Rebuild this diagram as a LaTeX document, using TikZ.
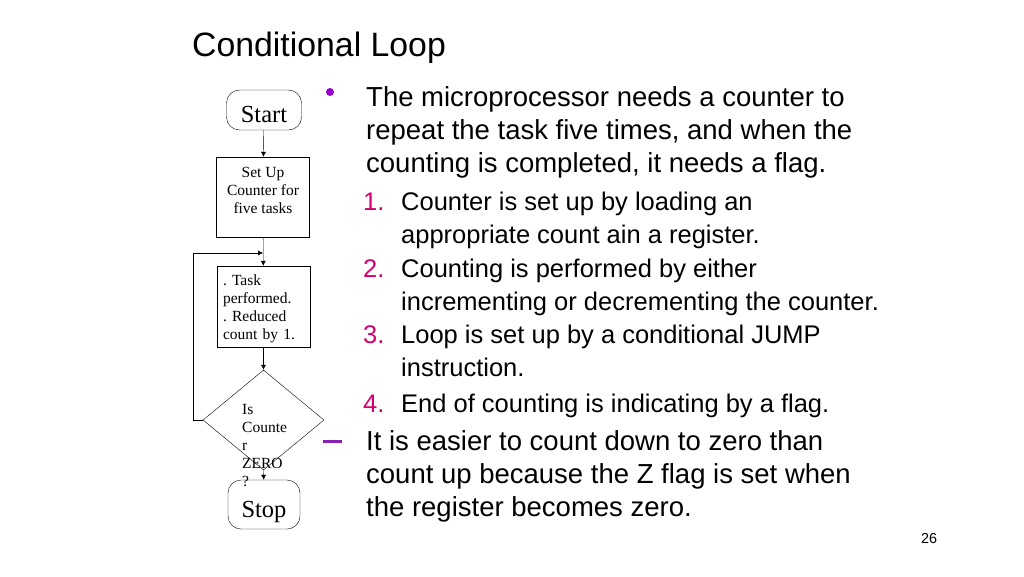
\documentclass[tikz,border=0pt]{standalone}
\usepackage{fontspec}
\setmainfont{Liberation Sans}
\newfontfamily\flowfont{Liberation Serif}
\usepackage{xcolor}
\definecolor{Bullet Violet}{HTML}{9A00CC}
\definecolor{Deep Pink}{HTML}{D6006F}
\definecolor{Dash Violet}{HTML}{8A1FB5}
\colorlet{cBullet}{Bullet Violet}
\colorlet{cNum}{Deep Pink}
\colorlet{cDash}{Dash Violet}
\usetikzlibrary{arrows.meta, positioning, shapes.geometric}
\tikzset{
	x=1pt,
	y=-1pt,
	line width = .9pt,
	>={Latex[length=5pt,width=5pt]},
	terminal/.style={
		draw,
		rounded corners=13pt,
		inner sep=0pt,
		text height=30pt,
		text depth=5pt,
		font=\flowfont\fontsize{24.5}{26}\selectfont
	},
	process/.style={
		draw,
		rectangle,
		inner xsep=6pt,
		inner ysep=0pt,
		minimum width=93pt,
		font=\flowfont\fontsize{15.5}{18}\selectfont
	},
	decision/.style={
		draw,
		diamond,
		inner sep=0pt,
		minimum width=121pt,
		minimum height=100pt
	},
	flowtext/.style={
		inner sep=0pt,
		align=left,
		font=\flowfont\fontsize{15.5}{17.8}\selectfont
	},
	edge/.style={
		->
	},
	body/.style={
		inner sep=0pt,
		anchor=base west,
		align=left,
		font=\fontsize{27.5}{33}\selectfont
	},
	itemtext/.style={
		body,
		font=\fontsize{25.5}{33}\selectfont
	},
	num/.style={
		itemtext,
		text=cNum
	}
}
\begin{document}
\frenchspacing
\begin{tikzpicture}
\useasboundingbox[fill=white] (0,0) rectangle (1024,576);

% ---
% title
% ---
\node[body, font=\fontsize{33.8}{36}\selectfont] (title) at (192,56) {Conditional Loop};

% ---
% flowchart
% ---
\node[terminal, minimum width=75pt, minimum height=40pt] (start) at (264,110) {Start};
\node[process, minimum height=80pt, text depth=13pt, align=center] (setup) at (263,197) {Set Up\\Counter for\\five tasks};
\node[process, minimum height=81pt, text width=81pt, text height=15pt, align=left] (task) at (263.5,306.5) {. Task\\performed.\\. Reduced\\count by 1.};
\node[decision] (check) at (263.5,420) {};
% base anchor sits on the last line
\node[flowtext, anchor=base west] (checktext) at (242,486) {Is\\Counte\\r\\ZERO\\?};
\node[terminal, minimum width=72pt, minimum height=49pt] (stop) at (264,504.5) {Stop};

\coordinate (join) at (263,253);
\coordinate (back) at (193,420);

\draw[edge] (start) -- (setup);
\draw[edge] (setup) -- (task);
\draw[edge] (task) -- (check);
\draw[edge] (check.south) -- (stop);
\draw[edge] (check.west) -- (back) |- (join);

% ---
% text
% ---
\node[circle, fill=cBullet, inner sep=0pt, minimum size=8pt] (bullet) at (330,92) {};
\node[body] (intro) at (366,172) {The microprocessor needs a counter to\\repeat the task five times, and when the\\counting is completed, it needs a flag.};

\node[num] (n1) at (363,210) {1.};
\node[itemtext] (s1) at (401,243) {Counter is set up by loading an\\appropriate count ain a register.};
\node[num] (n2) at (363,277) {2.};
\node[itemtext] (s2) at (401,310) {Counting is performed by either\\incrementing or decrementing the counter.};
\node[num] (n3) at (363,343) {3.};
\node[itemtext] (s3) at (401,376) {Loop is set up by a conditional JUMP\\instruction.};
\node[num] (n4) at (363,412) {4.};
\node[itemtext] (s4) at (401,412) {End of counting is indicating by a flag.};

\node[fill=cDash, inner sep=0pt, minimum width=19pt, minimum height=2.6pt] (dash) at (332.5,441.5) {};
\node[body] (note) at (366,516) {It is easier to count down to zero than\\count up because the Z flag is set when\\the register becomes zero.};

\node[body, font=\fontsize{14.4}{16}\selectfont] (page) at (921,543) {26};
\end{tikzpicture}
\end{document}
